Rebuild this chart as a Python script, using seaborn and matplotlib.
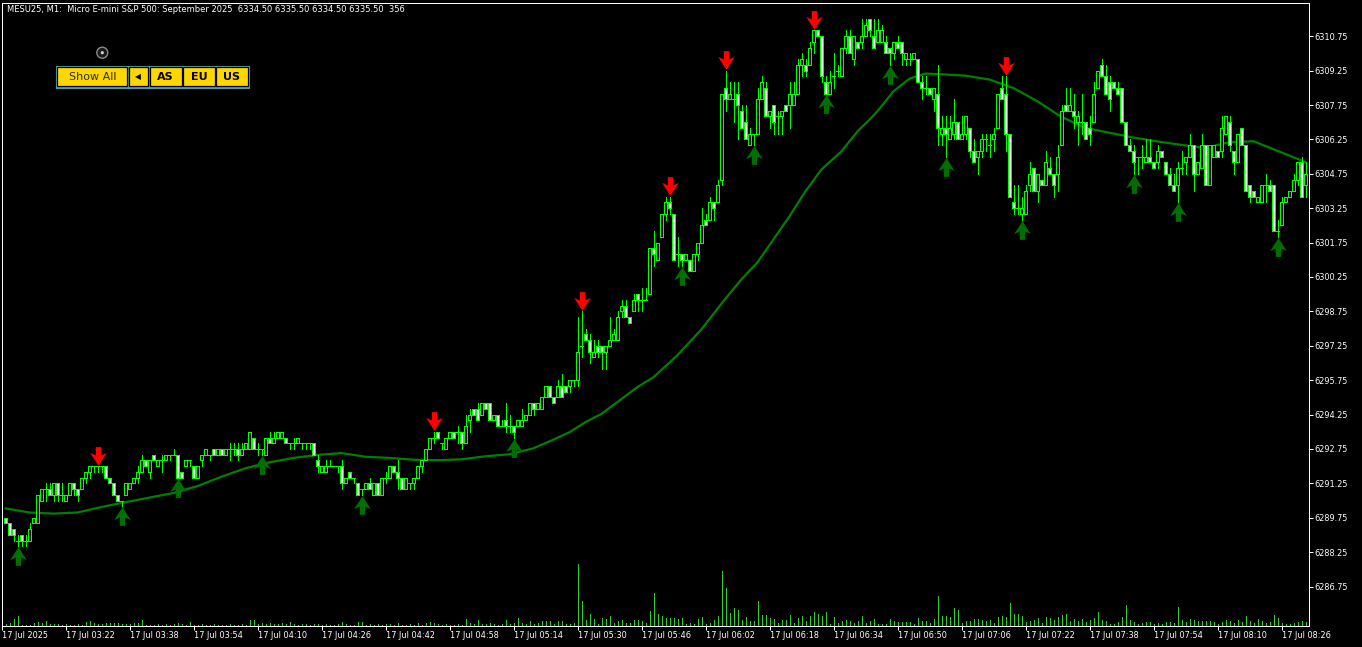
import matplotlib
matplotlib.use("Agg")
import matplotlib.pyplot as plt
import seaborn as sns
import numpy as np
import pandas as pd
from matplotlib.patches import Rectangle, Ellipse

W, H = 1362, 647

# one-minute bars, 17 Jul 2025 03:07 .. 08:32
opens = [
    6289.75, 6289.5, 6289.25, 6288.75, 6289.0, 6288.75, 6288.75, 6289.5, 6289.5, 6290.5,
    6291.0, 6291.0, 6290.75, 6291.25, 6290.75, 6290.5, 6290.75, 6291.25, 6291.0, 6291.0,
    6291.5, 6291.75, 6292.0, 6292.0, 6292.0, 6292.0, 6291.5, 6291.25, 6290.75, 6290.5,
    6290.75, 6291.0, 6291.25, 6291.5, 6291.75, 6292.25, 6291.75, 6292.5, 6292.0, 6292.25,
    6292.25, 6292.5, 6292.5, 6292.5, 6291.75, 6292.0, 6292.25, 6292.0, 6291.5, 6292.25,
    6292.5, 6292.5, 6292.75, 6292.5, 6292.75, 6292.5, 6292.75, 6292.75, 6292.75, 6292.5,
    6292.75, 6292.75, 6293.25, 6292.75, 6292.75, 6292.5, 6293.25, 6293.0, 6293.25, 6293.25,
    6293.25, 6293.0, 6293.0, 6293.0, 6293.0, 6293.0, 6293.0, 6293.0, 6292.25, 6291.75,
    6291.75, 6292.0, 6292.0, 6292.0, 6292.0, 6291.25, 6291.75, 6291.5, 6291.25, 6291.0,
    6291.0, 6291.25, 6290.75, 6291.25, 6290.75, 6291.5, 6291.5, 6292.0, 6291.75, 6291.5,
    6291.0, 6291.25, 6291.25, 6291.5, 6292.0, 6292.25, 6292.75, 6293.25, 6293.5, 6293.0,
    6292.75, 6293.25, 6293.5, 6293.5, 6293.5, 6293.0, 6294.0, 6294.5, 6294.5, 6294.25,
    6294.75, 6294.75, 6294.0, 6294.25, 6293.75, 6294.0, 6293.75, 6293.75, 6293.75, 6293.75,
    6294.0, 6294.25, 6294.75, 6294.5, 6294.5, 6295.0, 6295.5, 6295.0, 6295.0, 6295.5,
    6295.5, 6295.5, 6295.75, 6295.75, 6297.25, 6297.75, 6297.5, 6296.75, 6297.25, 6297.25,
    6297.0, 6297.25, 6297.5, 6297.5, 6298.75, 6299.0, 6298.5, 6298.75, 6299.5, 6299.25,
    6299.25, 6299.5, 6301.5, 6301.0, 6302.0, 6303.0, 6303.5, 6303.0, 6301.25, 6301.25,
    6301.0, 6301.0, 6300.5, 6301.25, 6301.75, 6302.75, 6302.75, 6303.5, 6303.5, 6304.5,
    6308.5, 6308.0, 6308.0, 6308.25, 6307.5, 6307.0, 6306.0, 6306.5, 6306.5, 6308.0,
    6308.5, 6307.25, 6307.75, 6307.25, 6307.25, 6307.75, 6307.75, 6307.75, 6308.25, 6309.5,
    6309.5, 6309.5, 6310.5, 6311.0, 6310.75, 6308.75, 6308.25, 6309.0, 6309.25, 6309.0,
    6310.25, 6310.75, 6309.75, 6310.5, 6310.5, 6310.75, 6311.5, 6310.75, 6310.5, 6310.5,
    6310.5, 6310.25, 6310.0, 6310.5, 6310.5, 6309.75, 6309.75, 6309.75, 6309.75, 6308.75,
    6308.5, 6308.5, 6308.0, 6308.25, 6306.5, 6306.75, 6306.25, 6306.5, 6307.0, 6306.25,
    6306.5, 6306.75, 6305.75, 6305.5, 6305.75, 6306.25, 6306.0, 6306.25, 6306.75, 6308.5,
    6308.25, 6306.5, 6303.5, 6303.25, 6303.0, 6303.0, 6304.25, 6305.0, 6304.0, 6304.5,
    6304.25, 6305.0, 6304.75, 6304.75, 6306.0, 6307.75, 6307.5, 6307.5, 6307.0, 6307.0,
    6307.0, 6306.75, 6307.0, 6308.5, 6309.5, 6309.0, 6308.75, 6308.75, 6308.5, 6308.5,
    6307.0, 6306.0, 6305.75, 6305.5, 6305.5, 6305.25, 6305.5, 6305.25, 6305.25, 6305.75,
    6305.25, 6304.75, 6304.25, 6304.25, 6305.0, 6305.25, 6305.5, 6306.0, 6304.75, 6305.0,
    6306.0, 6304.25, 6305.5, 6305.75, 6305.75, 6306.5, 6307.0, 6305.75, 6305.25, 6306.75,
    6306.0, 6304.25, 6304.0, 6303.5, 6303.5, 6304.25, 6304.25, 6304.25, 6302.25, 6302.5,
    6303.5, 6303.75, 6304.0, 6304.5, 6305.25, 6304.25,
]
highs = [
    6289.75, 6289.5, 6289.25, 6289.0, 6289.0, 6289.0, 6289.5, 6289.75, 6290.75, 6291.0,
    6291.25, 6291.25, 6291.25, 6291.25, 6291.25, 6290.75, 6291.25, 6291.25, 6291.0, 6291.5,
    6291.75, 6292.0, 6292.0, 6292.0, 6292.0, 6292.0, 6291.5, 6291.25, 6290.75, 6290.5,
    6291.25, 6291.25, 6291.5, 6292.0, 6292.5, 6292.25, 6292.25, 6292.5, 6292.25, 6292.5,
    6292.5, 6292.5, 6292.75, 6292.5, 6291.75, 6292.25, 6292.25, 6292.0, 6292.0, 6292.5,
    6292.75, 6292.5, 6292.75, 6292.75, 6292.75, 6292.75, 6293.0, 6293.0, 6293.0, 6293.0,
    6293.0, 6293.5, 6293.25, 6293.0, 6292.75, 6293.25, 6293.5, 6293.5, 6293.5, 6293.5,
    6293.25, 6293.0, 6293.25, 6293.25, 6293.0, 6293.0, 6293.0, 6293.0, 6292.5, 6292.0,
    6292.25, 6292.25, 6292.0, 6292.0, 6292.25, 6291.5, 6291.75, 6291.5, 6291.25, 6291.0,
    6291.25, 6291.5, 6291.25, 6291.25, 6291.5, 6291.75, 6292.0, 6292.0, 6292.25, 6291.5,
    6291.5, 6291.25, 6291.5, 6292.0, 6292.25, 6292.75, 6293.25, 6293.5, 6293.5, 6293.0,
    6293.25, 6293.5, 6293.5, 6293.75, 6293.5, 6294.25, 6294.5, 6294.5, 6294.75, 6294.75,
    6294.75, 6294.75, 6294.25, 6294.25, 6294.0, 6294.75, 6294.25, 6293.75, 6294.0, 6294.5,
    6294.25, 6294.75, 6294.75, 6294.75, 6295.0, 6295.5, 6295.5, 6295.0, 6295.75, 6296.0,
    6295.5, 6295.75, 6295.75, 6298.5, 6298.75, 6298.0, 6297.75, 6297.5, 6297.5, 6297.25,
    6297.25, 6298.5, 6298.0, 6298.75, 6299.25, 6299.25, 6298.5, 6299.5, 6299.5, 6299.75,
    6299.75, 6301.5, 6302.25, 6301.75, 6303.0, 6303.75, 6303.75, 6303.0, 6302.0, 6301.25,
    6301.25, 6301.0, 6301.25, 6301.75, 6303.25, 6303.0, 6303.75, 6303.5, 6304.5, 6308.25,
    6309.25, 6308.75, 6308.75, 6308.75, 6307.75, 6307.75, 6306.75, 6306.5, 6308.5, 6309.0,
    6308.75, 6307.5, 6307.75, 6307.5, 6307.5, 6307.75, 6308.75, 6308.75, 6309.75, 6310.0,
    6309.75, 6310.5, 6311.0, 6311.0, 6310.75, 6309.0, 6309.25, 6310.0, 6309.5, 6310.25,
    6311.0, 6311.0, 6310.75, 6310.5, 6311.5, 6311.5, 6311.5, 6311.5, 6311.5, 6311.25,
    6310.75, 6310.25, 6310.5, 6310.75, 6310.5, 6310.0, 6310.0, 6310.0, 6309.75, 6309.0,
    6309.0, 6308.5, 6308.5, 6309.5, 6307.25, 6307.25, 6307.25, 6308.0, 6307.0, 6307.25,
    6307.25, 6306.75, 6306.25, 6305.75, 6306.5, 6306.5, 6306.5, 6306.75, 6308.25, 6309.0,
    6309.0, 6306.5, 6304.25, 6304.25, 6303.75, 6304.25, 6305.25, 6305.0, 6304.75, 6304.5,
    6305.75, 6305.5, 6304.75, 6306.0, 6307.75, 6308.5, 6308.5, 6308.25, 6307.5, 6308.25,
    6307.0, 6307.25, 6308.75, 6309.25, 6309.75, 6309.5, 6309.0, 6308.75, 6308.75, 6308.5,
    6307.0, 6306.25, 6306.0, 6305.5, 6306.0, 6306.25, 6306.25, 6305.25, 6306.0, 6305.75,
    6305.25, 6305.0, 6304.75, 6305.25, 6305.75, 6305.5, 6306.5, 6306.0, 6305.25, 6306.5,
    6306.0, 6306.0, 6306.0, 6305.75, 6307.25, 6307.25, 6307.25, 6305.75, 6306.5, 6306.75,
    6306.0, 6304.25, 6304.0, 6303.75, 6304.25, 6304.75, 6304.5, 6304.25, 6302.75, 6303.75,
    6303.75, 6304.0, 6304.75, 6305.25, 6305.5, 6305.25,
]
lows = [
    6289.5, 6289.0, 6288.75, 6288.5, 6288.5, 6288.5, 6288.75, 6289.5, 6289.5, 6290.5,
    6290.5, 6290.75, 6290.5, 6290.5, 6290.5, 6290.5, 6290.75, 6290.75, 6290.5, 6291.0,
    6291.25, 6291.5, 6291.75, 6291.75, 6291.75, 6291.5, 6291.25, 6290.75, 6290.5, 6290.25,
    6290.75, 6291.0, 6291.25, 6291.25, 6291.75, 6292.0, 6291.5, 6292.25, 6292.0, 6291.75,
    6292.25, 6292.25, 6292.5, 6291.5, 6291.5, 6292.0, 6292.0, 6291.5, 6291.5, 6292.0,
    6292.5, 6292.25, 6292.5, 6292.5, 6292.5, 6292.5, 6292.25, 6292.5, 6292.25, 6292.5,
    6292.75, 6292.75, 6292.75, 6292.5, 6292.5, 6292.5, 6293.0, 6293.0, 6293.25, 6293.25,
    6293.0, 6292.75, 6292.75, 6293.0, 6292.75, 6292.75, 6292.75, 6292.5, 6291.75, 6291.75,
    6291.75, 6292.0, 6292.0, 6291.75, 6291.0, 6291.25, 6291.5, 6291.25, 6290.75, 6290.75,
    6291.0, 6291.0, 6290.75, 6290.75, 6290.75, 6291.25, 6291.5, 6291.75, 6291.0, 6291.0,
    6291.0, 6291.0, 6291.0, 6291.5, 6291.75, 6292.25, 6292.75, 6293.0, 6293.25, 6292.75,
    6292.75, 6293.25, 6293.25, 6293.0, 6292.75, 6293.0, 6293.5, 6294.25, 6294.0, 6294.25,
    6294.5, 6294.0, 6294.0, 6293.75, 6293.75, 6293.5, 6293.5, 6293.25, 6293.75, 6293.75,
    6294.0, 6294.25, 6294.25, 6294.5, 6294.5, 6295.0, 6295.0, 6294.75, 6295.0, 6295.0,
    6295.25, 6295.25, 6295.5, 6295.5, 6296.75, 6297.5, 6296.5, 6296.75, 6296.75, 6296.25,
    6296.25, 6297.25, 6297.5, 6297.5, 6298.5, 6298.5, 6298.25, 6298.75, 6298.75, 6298.75,
    6299.25, 6299.5, 6300.75, 6301.0, 6302.0, 6302.75, 6303.0, 6301.0, 6300.75, 6300.75,
    6301.0, 6300.5, 6300.5, 6301.0, 6301.75, 6302.5, 6302.75, 6302.75, 6303.5, 6304.25,
    6307.5, 6308.0, 6307.0, 6306.25, 6306.75, 6306.25, 6306.0, 6306.0, 6306.5, 6308.0,
    6307.25, 6306.75, 6306.5, 6306.5, 6306.5, 6307.5, 6306.75, 6307.75, 6308.25, 6309.0,
    6309.0, 6309.5, 6310.0, 6310.75, 6308.75, 6308.25, 6308.25, 6308.5, 6309.0, 6309.0,
    6310.0, 6310.0, 6309.5, 6310.25, 6310.25, 6310.75, 6310.75, 6310.25, 6310.5, 6310.5,
    6310.0, 6309.5, 6309.75, 6310.25, 6309.5, 6309.5, 6309.5, 6309.75, 6308.75, 6308.0,
    6308.25, 6308.25, 6307.5, 6306.0, 6306.0, 6305.5, 6306.25, 6306.25, 6306.25, 6306.25,
    6306.25, 6305.5, 6305.25, 6304.75, 6305.5, 6305.75, 6305.5, 6305.75, 6306.75, 6308.0,
    6305.75, 6303.75, 6303.0, 6303.0, 6302.75, 6303.0, 6304.0, 6304.0, 6303.5, 6304.25,
    6304.25, 6304.75, 6303.75, 6304.0, 6306.0, 6307.5, 6307.5, 6306.75, 6306.0, 6306.5,
    6306.25, 6306.0, 6307.0, 6308.5, 6309.0, 6308.25, 6307.5, 6308.5, 6308.25, 6307.0,
    6306.0, 6305.75, 6304.75, 6304.75, 6305.0, 6305.25, 6305.25, 6305.0, 6305.0, 6305.5,
    6304.75, 6304.25, 6304.0, 6303.5, 6304.75, 6304.75, 6305.5, 6304.0, 6304.75, 6305.0,
    6304.25, 6304.25, 6305.5, 6305.5, 6305.5, 6306.5, 6305.75, 6304.75, 6305.25, 6306.0,
    6304.0, 6303.5, 6303.75, 6303.5, 6303.5, 6303.5, 6304.0, 6302.25, 6302.0, 6302.5,
    6303.5, 6303.75, 6304.0, 6304.25, 6303.75, 6303.75,
]
closes = [
    6289.5, 6289.0, 6289.0, 6288.75, 6288.75, 6288.75, 6289.25, 6289.75, 6290.75, 6291.0,
    6291.0, 6290.75, 6291.25, 6290.75, 6290.75, 6290.75, 6291.25, 6291.0, 6290.75, 6291.5,
    6291.75, 6292.0, 6292.0, 6292.0, 6292.0, 6291.5, 6291.25, 6290.75, 6290.5, 6290.5,
    6291.25, 6291.25, 6291.5, 6291.75, 6292.25, 6292.0, 6292.25, 6292.25, 6292.25, 6292.25,
    6292.5, 6292.5, 6292.5, 6291.5, 6291.5, 6292.25, 6292.25, 6291.5, 6292.0, 6292.5,
    6292.75, 6292.5, 6292.5, 6292.75, 6292.5, 6292.75, 6292.75, 6292.75, 6292.5, 6292.75,
    6293.0, 6293.5, 6292.75, 6292.75, 6292.75, 6293.25, 6293.0, 6293.25, 6293.5, 6293.5,
    6293.0, 6293.0, 6293.0, 6293.25, 6293.0, 6293.0, 6293.0, 6292.5, 6292.0, 6292.0,
    6292.0, 6292.0, 6292.0, 6292.0, 6291.25, 6291.5, 6291.5, 6291.5, 6290.75, 6291.0,
    6291.25, 6291.0, 6291.25, 6290.75, 6291.5, 6291.5, 6292.0, 6291.75, 6291.5, 6291.0,
    6291.5, 6291.25, 6291.5, 6292.0, 6292.25, 6292.75, 6293.25, 6293.25, 6293.25, 6293.0,
    6293.25, 6293.5, 6293.25, 6293.5, 6293.0, 6293.75, 6294.25, 6294.25, 6294.0, 6294.75,
    6294.5, 6294.0, 6294.25, 6293.75, 6293.75, 6293.75, 6293.75, 6293.5, 6294.0, 6294.0,
    6294.25, 6294.75, 6294.5, 6294.75, 6295.0, 6295.5, 6295.0, 6294.75, 6295.5, 6295.0,
    6295.25, 6295.75, 6295.75, 6297.0, 6297.25, 6297.5, 6297.0, 6297.0, 6297.0, 6297.0,
    6297.25, 6297.5, 6297.75, 6298.5, 6299.0, 6298.5, 6298.25, 6299.25, 6299.25, 6299.25,
    6299.25, 6301.5, 6301.25, 6301.75, 6303.0, 6303.5, 6303.25, 6301.0, 6301.25, 6301.0,
    6301.25, 6300.5, 6301.25, 6301.75, 6302.5, 6302.5, 6303.5, 6303.25, 6304.25, 6308.25,
    6308.0, 6308.25, 6308.0, 6307.75, 6306.75, 6306.25, 6306.5, 6306.5, 6308.0, 6308.75,
    6307.25, 6307.5, 6307.0, 6307.25, 6307.5, 6307.5, 6308.25, 6308.25, 6309.5, 6309.75,
    6309.25, 6310.25, 6311.0, 6310.75, 6309.0, 6308.25, 6308.75, 6309.0, 6309.25, 6310.25,
    6310.75, 6310.0, 6310.75, 6310.25, 6310.75, 6311.25, 6311.0, 6310.25, 6311.0, 6311.0,
    6310.0, 6310.0, 6310.5, 6310.25, 6310.0, 6310.0, 6309.75, 6310.0, 6308.75, 6308.5,
    6308.5, 6308.25, 6308.5, 6306.75, 6306.75, 6306.5, 6306.75, 6307.0, 6306.25, 6306.5,
    6307.25, 6305.75, 6305.25, 6305.75, 6306.25, 6306.25, 6306.0, 6306.5, 6308.25, 6308.0,
    6306.5, 6303.75, 6303.25, 6303.25, 6303.25, 6304.0, 6304.75, 6304.0, 6304.75, 6304.25,
    6305.25, 6304.75, 6304.25, 6305.5, 6307.5, 6307.5, 6307.75, 6307.25, 6307.25, 6307.0,
    6306.25, 6306.5, 6308.25, 6309.25, 6309.0, 6308.25, 6308.0, 6308.5, 6308.25, 6307.0,
    6306.0, 6305.75, 6305.25, 6305.5, 6305.5, 6305.5, 6305.25, 6305.0, 6305.75, 6305.5,
    6304.75, 6304.25, 6304.0, 6305.0, 6305.0, 6305.5, 6306.0, 6304.75, 6305.25, 6306.0,
    6304.25, 6306.0, 6306.0, 6305.5, 6306.75, 6307.25, 6306.0, 6305.25, 6306.5, 6306.0,
    6304.0, 6303.75, 6303.75, 6303.75, 6304.25, 6304.25, 6304.0, 6302.25, 6302.25, 6303.5,
    6303.75, 6304.0, 6304.5, 6305.25, 6303.75, 6304.75,
]
volumes = [
    200, 300, 700, 1000, 100, 100, 100, 300, 400, 300,
    500, 200, 200, 200, 100, 200, 100, 100, 200, 100,
    400, 500, 300, 200, 200, 300, 300, 300, 300, 200,
    200, 200, 300, 300, 600, 100, 100, 100, 200, 100,
    200, 100, 200, 300, 200, 100, 400, 100, 100, 200,
    100, 100, 200, 100, 100, 100, 200, 100, 100, 200,
    100, 600, 600, 200, 300, 200, 300, 200, 200, 300,
    200, 400, 200, 100, 200, 200, 100, 200, 200, 100,
    200, 100, 100, 200, 400, 200, 100, 100, 400, 400,
    100, 200, 100, 200, 100, 200, 200, 100, 300, 100,
    100, 200, 100, 300, 100, 300, 400, 300, 200, 100,
    200, 100, 100, 200, 100, 700, 300, 200, 600, 200,
    200, 300, 200, 100, 200, 600, 200, 300, 800, 300,
    200, 500, 200, 300, 500, 500, 500, 200, 500, 500,
    200, 200, 300, 6200, 2500, 600, 1200, 700, 200, 800,
    700, 1000, 300, 500, 600, 300, 300, 600, 600, 500,
    300, 1500, 3300, 1200, 1000, 800, 800, 800, 700, 800,
    200, 300, 200, 700, 900, 200, 300, 600, 1000, 5500,
    3800, 1300, 1800, 1600, 600, 900, 500, 500, 2500, 1100,
    1100, 800, 700, 300, 600, 600, 1100, 300, 800, 1000,
    500, 1000, 1400, 1200, 1000, 1400, 200, 900, 300, 500,
    600, 500, 300, 500, 1000, 300, 500, 700, 200, 200,
    200, 700, 500, 400, 400, 400, 400, 200, 800, 500,
    500, 300, 700, 3000, 1000, 1000, 900, 1800, 1600, 300,
    500, 500, 700, 700, 600, 500, 600, 300, 900, 1000,
    900, 2300, 1200, 1200, 1000, 400, 500, 600, 800, 300,
    900, 800, 600, 900, 1100, 1200, 500, 700, 500, 700,
    400, 600, 800, 1400, 600, 500, 200, 200, 400, 900,
    2100, 600, 400, 200, 300, 400, 400, 200, 300, 200,
    400, 400, 300, 1900, 600, 400, 700, 600, 500, 500,
    500, 500, 400, 200, 400, 600, 500, 300, 600, 400,
    1000, 500, 300, 700, 500, 300, 400, 1100, 800, 300,
    200, 200, 300, 400, 500, 356,
]

# moving average, sampled along the green curve
ma_bars = [0, 6, 12, 18, 24, 30, 36, 42, 48, 54, 60, 66, 72, 78, 84, 90, 96, 102, 108,
           114, 120, 126, 132, 137, 141, 145, 149, 154, 158, 162, 168, 174, 180, 184,
           188, 192, 196, 200, 204, 209, 213, 216, 218, 222, 226, 230, 234, 240, 246,
           252, 258, 264, 270, 276, 282, 288, 294, 300, 306, 312, 318, 325]
ma_values = [6290.16, 6289.98, 6289.93, 6289.98, 6290.22, 6290.43, 6290.63, 6290.83,
             6291.13, 6291.54, 6291.91, 6292.17, 6292.36, 6292.49, 6292.57, 6292.41,
             6292.36, 6292.28, 6292.26, 6292.30, 6292.43, 6292.52, 6292.78, 6293.16,
             6293.48, 6293.92, 6294.28, 6294.93, 6295.45, 6295.88, 6296.84, 6297.97,
             6299.31, 6300.15, 6300.89, 6301.89, 6302.90, 6303.99, 6304.94, 6305.73,
             6306.60, 6307.11, 6307.48, 6308.35, 6308.90, 6309.12, 6309.09, 6309.03,
             6308.86, 6308.49, 6307.91, 6307.23, 6306.75, 6306.54, 6306.33, 6306.16,
             6306.01, 6305.88, 6306.13, 6306.17, 6305.75, 6305.26]

# bars flagged by the indicator
sell_bars = [23, 107, 144, 166, 180, 202, 250]
buy_bars = [3, 29, 43, 64, 89, 127, 169, 187, 205, 221, 235, 254, 282, 293, 318]

tick_bars = [15, 31, 47, 63, 79, 95, 111, 127, 143, 159, 175, 191, 207, 223, 239,
             255, 271, 287, 303, 319]
price_ticks = [6286.75, 6288.25, 6289.75, 6291.25, 6292.75, 6294.25, 6295.75, 6297.25,
               6298.75, 6300.25, 6301.75, 6303.25, 6304.75, 6306.25, 6307.75, 6309.25,
               6310.75]

title = ("MESU25, M1:  Micro E-mini S&P 500: September 2025  "
         "6334.50 6335.50 6334.50 6335.50  356")

LIME = "#00ff00"
VOL = "#32cd32"
MA = "#008000"
RED = "#ff0000"
UP = "#006e00"
PX = 0.72  # one pixel in points

sns.set_theme(style="dark")
plt.rcParams["font.family"] = ["DejaVu Sans"]

df = pd.DataFrame({"open": opens, "high": highs, "low": lows,
                   "close": closes, "volume": volumes})
df["time"] = pd.date_range("2025-07-17 03:07", periods=len(df), freq="min")
df["bar"] = np.arange(len(df))

fig = plt.figure(figsize=(W / 100, H / 100), dpi=100, facecolor="black")
ax = fig.add_axes([2 / W, 21 / H, 1307 / W, 623.5 / H])
ax.set_facecolor("black")
ax.grid(False)

ymin, ymax = 6285.03, 6312.22
ax.set_xlim(-0.875, 325.875)
ax.set_ylim(ymin, ymax)
ppu = 623.5 / (ymax - ymin)  # pixels per price point

# volume overlay on its own scale
vax = ax.twinx()
vax.vlines(df["bar"], 0, df["volume"], color=VOL, lw=PX, antialiased=False)
vax.set_ylim(0, 62350)
vax.set_yticks([])
vax.grid(False)
for s in vax.spines.values():
    s.set_visible(False)

# moving average
sns.lineplot(x=ma_bars, y=ma_values, ax=ax, color=MA, linewidth=1.6,
             estimator=None, sort=False, zorder=2)

# candles
ax.vlines(df["bar"], df["low"], df["high"], color=LIME, lw=PX, zorder=3,
          antialiased=False)
bear = df["close"] < df["open"]
body_lo = df[["open", "close"]].min(axis=1)
body_h = (df["close"] - df["open"]).abs()
ax.bar(df["bar"], body_h, bottom=body_lo, width=0.55,
       color=np.where(bear, "white", "black"), edgecolor=LIME,
       linewidth=PX, zorder=4, antialiased=False)

# signal arrows
down_arrow = [(-2.6, 9), (2.6, 9), (2.6, 1), (8, 3.5), (0, -9), (-8, 3.5),
              (-2.6, 1), (-2.6, 9)]
up_arrow = [(x, -y) for x, y in down_arrow]
sells = df.loc[sell_bars]
buys = df.loc[buy_bars]
ax.plot(sells["bar"], sells["high"] + 10.5 / ppu, ls="none", marker=down_arrow,
        ms=13.5, mfc=RED, mec="none", zorder=6)
ax.plot(buys["bar"], buys["low"] - 10 / ppu, ls="none", marker=up_arrow,
        ms=13.5, mfc=UP, mec="none", zorder=6)

# axes styling
for s in ax.spines.values():
    s.set_color("white")
    s.set_linewidth(PX)

ax.yaxis.tick_right()
ax.set_yticks(price_ticks)
ax.set_yticklabels([f"{p:.2f}" for p in price_ticks])
ax.tick_params(axis="y", colors="white", direction="out", length=4 * PX,
               width=PX, labelsize=5.9, pad=1.2, right=True, left=False,
               labelright=True, labelleft=False)

xt = [-0.875] + tick_bars
xl = ["17 Jul 2025"] + [f"{t:%d %b %H:%M}" for t in df.loc[tick_bars, "time"]]
ax.set_xticks(xt)
ax.set_xticklabels(xl, ha="left")
ax.tick_params(axis="x", colors="white", direction="out", length=4 * PX,
               width=PX, labelsize=5.9, pad=0.8, bottom=True)
ax.set_xlabel("")
ax.set_ylabel("")

# header text
fig.text(7 / W, 1 - 10 / H, title, color="white", fontsize=6.05,
         ha="left", va="center")

# small round icon
fig.patches.append(Ellipse((102.3 / W, 1 - 52.7 / H), 11 / W, 11 / H,
                           transform=fig.transFigure, facecolor="#1a1a1a",
                           edgecolor="#8a8a8a", lw=1.0))
fig.patches.append(Ellipse((102.3 / W, 1 - 52.7 / H), 3.2 / W, 3.2 / H,
                           transform=fig.transFigure, facecolor="#d0d0d0",
                           edgecolor="none"))


def box(x0, y0, x1, y1, **kw):
    fig.patches.append(Rectangle((x0 / W, 1 - y1 / H), (x1 - x0) / W, (y1 - y0) / H,
                                 transform=fig.transFigure, **kw))


box(56, 66, 249, 87.5, facecolor="#5a9aa0", edgecolor="#5a9aa0", lw=0.8)
buttons = [("Show All", 57.3, 127.3, "normal"), ("\u25c0", 128.5, 148.3, "bold"),
           ("AS", 149.5, 181.7, "bold"), ("EU", 183.3, 215.0, "bold"),
           ("US", 216.2, 247.5, "bold")]
for label, x0, x1, weight in buttons:
    box(x0, 67.3, x1, 86.2, facecolor="#ffd700", edgecolor="black", lw=0.9)
    size = 8.0 if label != "\u25c0" else 5.5
    color = "#2a2a2a" if weight == "normal" else "black"
    fig.text((x0 + x1) / 2 / W, 1 - 77 / H, label, fontsize=size,
             fontweight=weight, color=color, ha="center", va="center")

fig.savefig("out.png", dpi=100, facecolor="black")
